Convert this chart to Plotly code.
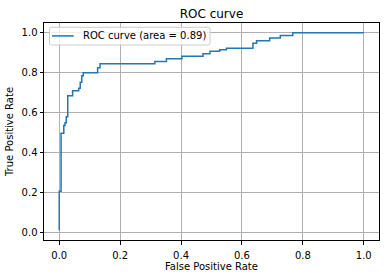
import plotly.graph_objects as go

# ROC curve corner points
fpr = [0.0, 0.0, 0.006, 0.006, 0.015, 0.015, 0.019, 0.019, 0.023, 0.023, 0.028, 0.028,
       0.044, 0.044, 0.064, 0.064, 0.069, 0.069, 0.074, 0.074, 0.079, 0.079,
       0.126, 0.126, 0.134, 0.134, 0.314, 0.314, 0.352, 0.352, 0.403, 0.403,
       0.472, 0.472, 0.495, 0.495, 0.527, 0.527, 0.549, 0.549, 0.636, 0.636,
       0.648, 0.648, 0.691, 0.691, 0.726, 0.726, 0.767, 0.767, 1.0]
tpr = [0.012, 0.208, 0.208, 0.498, 0.498, 0.536, 0.536, 0.55, 0.55, 0.58, 0.58, 0.686,
       0.686, 0.711, 0.711, 0.723, 0.723, 0.753, 0.753, 0.786, 0.786, 0.80,
       0.80, 0.825, 0.825, 0.845, 0.845, 0.857, 0.857, 0.87, 0.87, 0.883,
       0.883, 0.896, 0.896, 0.908, 0.908, 0.915, 0.915, 0.923, 0.923, 0.948,
       0.948, 0.96, 0.96, 0.974, 0.974, 0.987, 0.987, 1.0, 1.0]
auc_label = "ROC curve (area = 0.89)"
title_text = "ROC curve"
x_title = "False Positive Rate"
y_title = "True Positive Rate"
tick_vals = [0.0, 0.2, 0.4, 0.6, 0.8, 1.0]

FONT = "DejaVu Sans"
LINE_COLOR = "#1f77b4"

W, H = 389, 278
ML, MR, MT, MB = 44, 10, 23, 38
PW, PH = W - ML - MR, H - MT - MB


def px_x(p):  # pixel -> paper x
    return (p - ML) / PW


def px_y(p):  # pixel -> paper y
    return (H - MB - p) / PH


fig = go.Figure()
fig.add_trace(go.Scatter(x=fpr, y=tpr, mode="lines", name=auc_label,
                         line=dict(color=LINE_COLOR, width=1.5), showlegend=False))

axis_common = dict(
    showgrid=True, gridcolor="#b0b0b0", gridwidth=0.8,
    showline=True, linecolor="black", linewidth=1, mirror=True,
    ticks="outside", ticklen=3.5, tickwidth=0.8, tickcolor="black",
    tickfont=dict(family=FONT, size=10, color="black"),
    zeroline=False, tickvals=tick_vals, tickformat=".1f",
    automargin=False,
)

# legend drawn in the matplotlib style (box, line sample, label)
lx0, lx1, ly0, ly1 = 49.5, 210, 27.3, 45
r = 2
path = (f"M {px_x(lx0 + r)},{px_y(ly0)} L {px_x(lx1 - r)},{px_y(ly0)} "
        f"Q {px_x(lx1)},{px_y(ly0)} {px_x(lx1)},{px_y(ly0 + r)} "
        f"L {px_x(lx1)},{px_y(ly1 - r)} Q {px_x(lx1)},{px_y(ly1)} {px_x(lx1 - r)},{px_y(ly1)} "
        f"L {px_x(lx0 + r)},{px_y(ly1)} Q {px_x(lx0)},{px_y(ly1)} {px_x(lx0)},{px_y(ly1 - r)} "
        f"L {px_x(lx0)},{px_y(ly0 + r)} Q {px_x(lx0)},{px_y(ly0)} {px_x(lx0 + r)},{px_y(ly0)} Z")
shapes = [
    dict(type="path", xref="paper", yref="paper", path=path,
         fillcolor="rgba(255,255,255,0.8)", line=dict(color="#cccccc", width=1), layer="above"),
    dict(type="line", xref="paper", yref="paper",
         x0=px_x(52), x1=px_x(73.7), y0=px_y(35.9), y1=px_y(35.9),
         line=dict(color=LINE_COLOR, width=1.5), layer="above"),
]
annotations = [
    dict(text=auc_label, xref="paper", yref="paper", x=px_x(81), y=px_y(36),
         xanchor="left", yanchor="middle", showarrow=False,
         font=dict(family=FONT, size=10, color="black")),
    dict(text=x_title, xref="paper", yref="paper", x=0.5, y=px_y(266.5),
         xanchor="center", yanchor="middle", showarrow=False, borderpad=0,
         font=dict(family=FONT, size=10, color="black")),
]

fig.update_layout(
    width=W, height=H,
    margin=dict(l=ML, r=MR, t=MT, b=MB, autoexpand=False),
    paper_bgcolor="white", plot_bgcolor="white",
    font=dict(family=FONT, size=10, color="black"),
    showlegend=False,
    title=dict(text=title_text, x=0.5, xref="paper", xanchor="center",
               y=1 - 13.5 / H, yanchor="middle",
               font=dict(family=FONT, size=12, color="black")),
    xaxis=dict(range=[-0.05, 1.05], ticklabelstandoff=2, **axis_common),
    yaxis=dict(range=[-0.0364, 1.0494],
               title=dict(text=y_title, standoff=6, font=dict(family=FONT, size=10)),
               **axis_common),
    shapes=shapes,
    annotations=annotations,
)

fig.write_html("out.html")
